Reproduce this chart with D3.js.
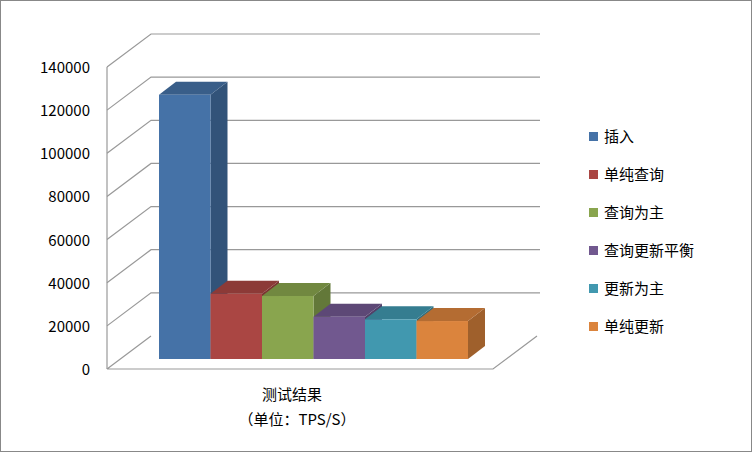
<!DOCTYPE html>
<html><head><meta charset="utf-8">
<script src="https://cdn.jsdelivr.net/npm/d3@7"></script>
<style>body{margin:0;background:#fff}text{font-family:"Noto Sans CJK SC","DejaVu Sans",sans-serif}</style>
</head><body><svg width="752" height="452"></svg>
<script>
var series = ["插入", "单纯查询", "查询为主", "查询更新平衡", "更新为主", "单纯更新"];
var values = [122500, 30200, 29200, 19600, 18400, 17600];
var colors = ["#4572a7", "#aa4643", "#89a54e", "#71588f", "#4198af", "#db843d"];
var ticks = [0, 20000, 40000, 60000, 80000, 100000, 120000, 140000];
var category = "测试结果";
var unit = "（单位：TPS/S）";

var svg = d3.select("svg");
svg.append("rect").attr("x", 0.5).attr("y", 0.5).attr("width", 751).attr("height", 451)
	.attr("fill", "#fff").attr("stroke", "#888");

var yFront = d3.scaleLinear().domain([0, 140000]).range([369, 67]);
var depthX = 44, depthY = -33;
var yBar = d3.scaleLinear().domain([0, 140000]).range([359, 57]);
var x = d3.scaleBand().domain(series).range([159, 468]);
var bdx = 17, bdy = -13;

// floor
svg.append("path").attr("fill", "none").attr("stroke", "#999").attr("stroke-width", 1.2)
	.attr("d", "M107," + yFront(0) + "L" + (107 + depthX) + "," + (yFront(0) + depthY) +
		"M107," + yFront(0) + "L493," + yFront(0) + "L537," + (yFront(0) + depthY));
// gridlines
ticks.forEach(function(t) {
	var y = yFront(t);
	if (t > 0) {
		svg.append("path").attr("fill", "none").attr("stroke", "#999").attr("stroke-width", 1.2)
			.attr("d", "M107," + y + "L" + (107 + depthX) + "," + (y + depthY) + "L540," + (y + depthY));
	}
	svg.append("text").attr("x", 90).attr("y", y + 6).attr("text-anchor", "end")
		.attr("font-size", 15).attr("fill", "#000").text(t);
});
svg.append("line").attr("x1", 107).attr("x2", 107).attr("y1", yFront(0)).attr("y2", yFront(140000))
	.attr("stroke", "#999").attr("stroke-width", 1.2);

// bars
series.forEach(function(s, i) {
	var c = d3.color(colors[i]);
	var x0 = x(s), x1 = x0 + x.bandwidth(), y0 = yBar(0), y1 = yBar(values[i]);
	svg.append("path").attr("fill", c.darker(0.9))
		.attr("d", "M" + x1 + "," + y0 + "L" + (x1 + bdx) + "," + (y0 + bdy) + "L" + (x1 + bdx) + "," + (y1 + bdy) + "L" + x1 + "," + y1 + "Z");
	svg.append("path").attr("fill", c.darker(0.55))
		.attr("d", "M" + x0 + "," + y1 + "L" + (x0 + bdx) + "," + (y1 + bdy) + "L" + (x1 + bdx) + "," + (y1 + bdy) + "L" + x1 + "," + y1 + "Z");
	svg.append("rect").attr("x", x0).attr("y", y1).attr("width", x.bandwidth()).attr("height", y0 - y1)
		.attr("fill", c);
});

// category labels
svg.append("text").attr("x", 292).attr("y", 400).attr("text-anchor", "middle").attr("font-size", 15).text(category);
svg.append("text").attr("x", 297).attr("y", 425).attr("text-anchor", "middle").attr("font-size", 15).text(unit);

// legend
var lg = svg.selectAll(".lg").data(series).enter().append("g")
	.attr("transform", function(d, i) { return "translate(589," + (137 + i * 38) + ")"; });
lg.append("rect").attr("x", 0).attr("y", -5).attr("width", 9).attr("height", 9)
	.attr("fill", function(d, i) { return colors[i]; });
lg.append("text").attr("x", 15).attr("y", 5).attr("font-size", 15).text(function(d) { return d; });
</script></body></html>
